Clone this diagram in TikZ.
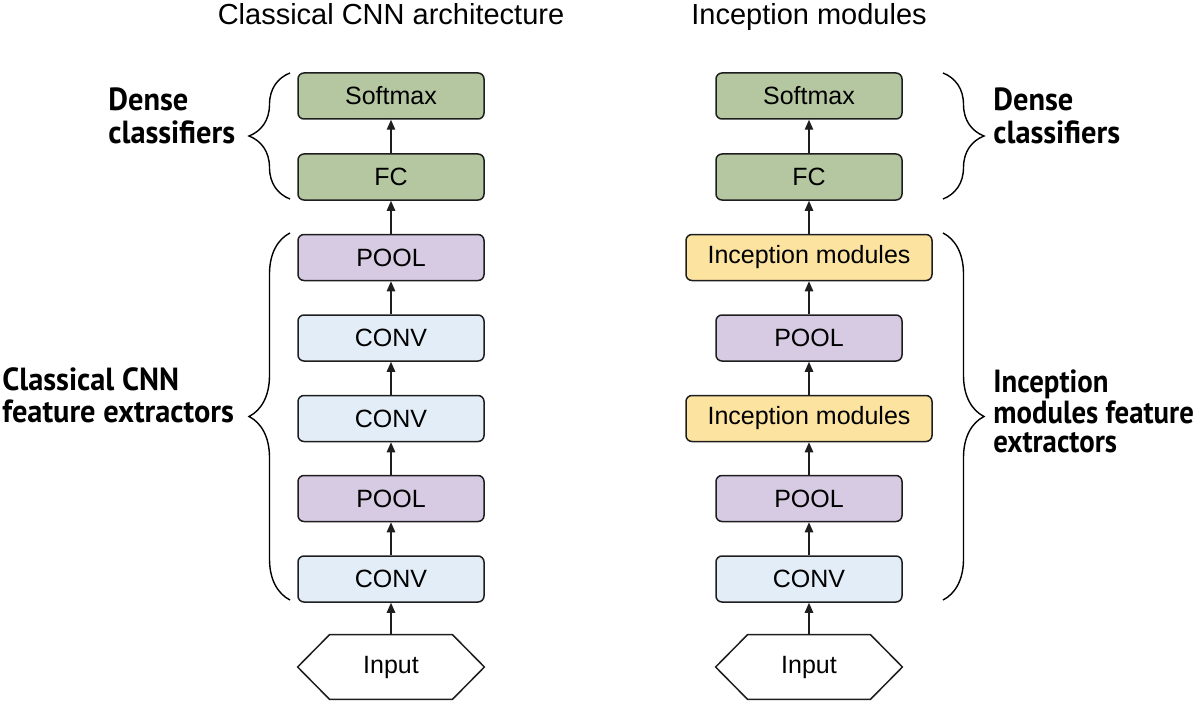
\documentclass[tikz,border=0pt]{standalone}
\usepackage{fontspec}
\setmainfont{Liberation Sans}
\newfontfamily\lblfont{PT Sans}[FakeStretch=0.95]
\newfontfamily\lblfontr{PT Sans}[FakeStretch=0.9]
\usetikzlibrary{arrows.meta,decorations.pathreplacing,calc}
\definecolor{cgreen}{RGB}{181,199,160}
\definecolor{cpurple}{RGB}{214,203,227}
\definecolor{cblue}{RGB}{227,237,247}
\definecolor{cyellow}{RGB}{252,227,160}
\definecolor{cline}{RGB}{30,30,30}
\begin{document}
\begin{tikzpicture}[x=0.5pt,y=-0.5pt,
  box/.style={draw=cline, line width=0.75pt, rounded corners=3pt, minimum width=93pt, minimum height=23pt, inner sep=0pt, font=\fontsize{12.5}{14}\selectfont},
  boxgreen/.style={box, fill=cgreen},
  boxpurple/.style={box, fill=cpurple},
  boxblue/.style={box, fill=cblue},
  boxyellow/.style={box, fill=cyellow, minimum width=123pt},
  hexin/.style={minimum width=61pt, minimum height=32pt, inner sep=0pt, font=\fontsize{12.5}{14}\selectfont},
  hexline/.style={draw=cline, line width=0.75pt},
  arr/.style={-{Triangle[length=5pt,width=4.2pt]}, line width=0.7pt, draw=cline},
  brc/.style={decorate, decoration={brace, amplitude=20.5pt}, line width=0.7pt},
  ttl/.style={font=\fontsize{14.5}{17}\selectfont, anchor=base, inner sep=0pt},
  lbl/.style={font=\lblfont\bfseries\fontsize{16}{16}\selectfont, anchor=base west, inner sep=0pt},
  lblr/.style={font=\lblfontr\bfseries\fontsize{16}{14.5}\selectfont, anchor=base west, inner sep=0pt}
]
\useasboundingbox (0,0) rectangle (1200,701);

% titles
\node[ttl] (t1) at (391,25) {Classical CNN architecture};
\node[ttl] (t2) at (809,25) {Inception modules};

% left column
\node[boxgreen]  (sL)  at (391,96)    {Softmax};
\node[boxgreen]  (fL)  at (391,177)   {FC};
\node[boxpurple] (p2L) at (391,257.5) {POOL};
\node[boxblue]   (c3L) at (391,338)   {CONV};
\node[boxblue]   (c2L) at (391,418.5) {CONV};
\node[boxpurple] (p1L) at (391,498.5) {POOL};
\node[boxblue]   (c1L) at (391,579)   {CONV};
\node[hexin]     (iL)  at (391,667)   {Input};
\draw[hexline] (iL.north west) -- (iL.north east) -- ($(iL.east)+(32,0)$) -- (iL.south east) -- (iL.south west) -- ($(iL.west)+(-32,0)$) -- cycle;

\draw[arr] (iL.north) -- (c1L.south);
\draw[arr] (c1L.north) -- (p1L.south);
\draw[arr] (p1L.north) -- (c2L.south);
\draw[arr] (c2L.north) -- (c3L.south);
\draw[arr] (c3L.north) -- (p2L.south);
\draw[arr] (p2L.north) -- (fL.south);
\draw[arr] (fL.north) -- (sL.south);

% right column
\node[boxgreen]  (sR)  at (809,96)    {Softmax};
\node[boxgreen]  (fR)  at (809,177)   {FC};
\node[boxyellow] (m2R) at (809,257.5) {Inception modules};
\node[boxpurple] (p2R) at (809,338)   {POOL};
\node[boxyellow] (m1R) at (809,418.5) {Inception modules};
\node[boxpurple] (p1R) at (809,498.5) {POOL};
\node[boxblue]   (c1R) at (809,579)   {CONV};
\node[hexin]     (iR)  at (809,667)   {Input};
\draw[hexline] (iR.north west) -- (iR.north east) -- ($(iR.east)+(32,0)$) -- (iR.south east) -- (iR.south west) -- ($(iR.west)+(-32,0)$) -- cycle;

\draw[arr] (iR.north) -- (c1R.south);
\draw[arr] (c1R.north) -- (p1R.south);
\draw[arr] (p1R.north) -- (m1R.south);
\draw[arr] (m1R.north) -- (p2R.south);
\draw[arr] (p2R.north) -- (m2R.south);
\draw[arr] (m2R.north) -- (fR.south);
\draw[arr] (fR.north) -- (sR.south);

% braces
\draw[brc] (290,199) -- (290,73);
\draw[brc] (290,600) -- (290,233);
\draw[brc] (943,73) -- (943,199);
\draw[brc] (943,233) -- (943,600);

% labels
\node[lbl] (ld) at (108,111) {\begin{tabular}[t]{@{}l@{}}Dense\\classifiers\end{tabular}};
\node[lbl] (lf) at (2,390) {\begin{tabular}[t]{@{}l@{}}Classical CNN\\feature extractors\end{tabular}};
\node[lbl] (rd) at (993,111) {\begin{tabular}[t]{@{}l@{}}Dense\\classifiers\end{tabular}};
\node[lblr] (rf) at (993,392) {\begin{tabular}[t]{@{}l@{}}Inception\\modules feature\\extractors\end{tabular}};
\end{tikzpicture}
\end{document}
